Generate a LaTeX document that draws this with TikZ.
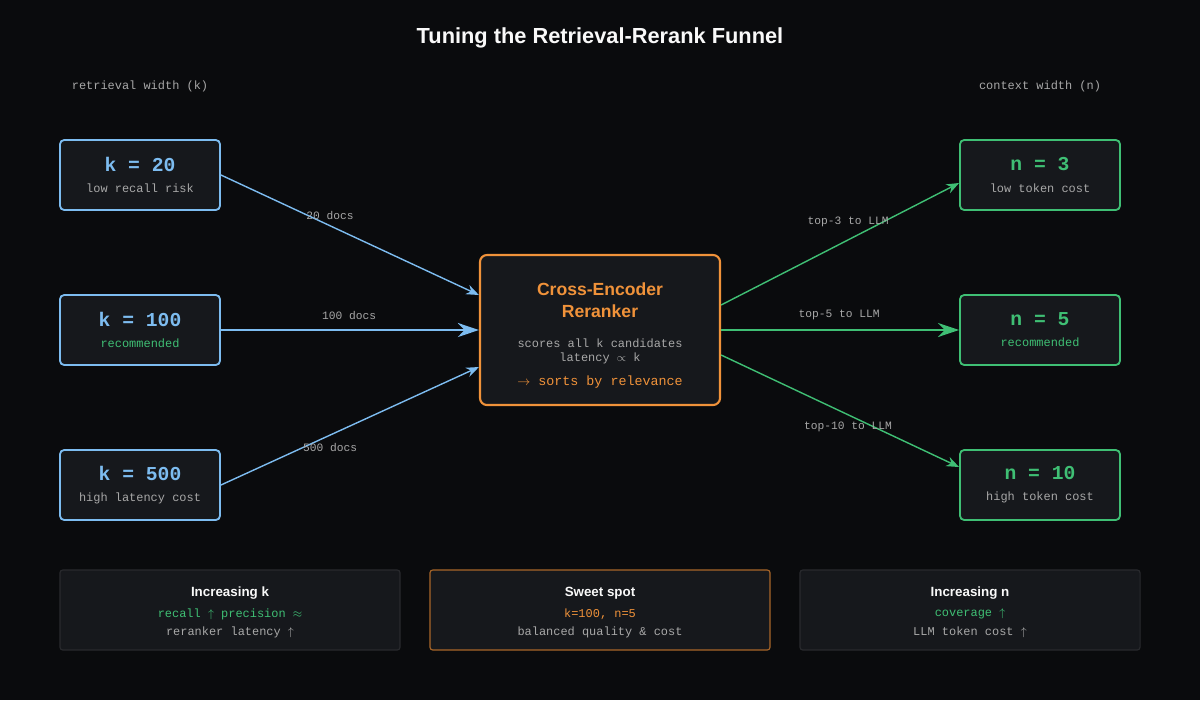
\documentclass[tikz,border=0pt]{standalone}
\usepackage{fontspec}
\setmainfont{Liberation Sans}
\newfontfamily\monof{Liberation Mono}
\usetikzlibrary{calc}
\usetikzlibrary{arrows.meta}
\definecolor{bgc}{HTML}{0A0B0D}
\definecolor{boxc}{HTML}{16181C}
\definecolor{kblue}{HTML}{7DBCF0}
\definecolor{ngreen}{HTML}{3FBF74}
\definecolor{rorange}{HTML}{F0923A}
\definecolor{txtgray}{HTML}{A8A8A8}
\tikzset{
  inbox/.style={draw=kblue,fill=boxc,line width=1.3pt,rounded corners=3pt,minimum width=4cm,minimum height=1.75cm,align=center,inner sep=0pt},
  outbox/.style={inbox,draw=ngreen},
  notebox/.style={draw=#1,fill=boxc,line width=0.8pt,rounded corners=2pt,minimum width=8.5cm,minimum height=2cm,align=center,inner sep=0pt},
  flowin/.style={draw=kblue,line width=1pt,-{Stealth[length=9pt,width=7pt]}},
  flowout/.style={draw=ngreen,line width=1pt,-{Stealth[length=9pt,width=7pt]}},
  edgelbl/.style={font=\monof\fontsize{8}{9}\selectfont,color=txtgray},
  sub/.style={font=\monof\fontsize{8.5}{10}\selectfont,color=txtgray}
}
\newcommand{\bigk}[2]{{\monof\fontsize{14}{16}\selectfont\bfseries\color{#1}#2}}
\begin{document}
\begin{tikzpicture}[x=0.025cm,y=-0.025cm]
  \fill[bgc] (0,0) rectangle (1200,700);
  \useasboundingbox (0,0) rectangle (1200,700);

  \node[font=\bfseries\fontsize{15.5}{18}\selectfont,color=white!95!gray] (title) at (600,38) {Tuning the Retrieval-Rerank Funnel};
  \node[sub] (lhead) at (140,86) {retrieval width (k)};
  \node[sub] (rhead) at (1040,86) {context width (n)};

  % retrieval side
  \node[inbox] (k20) at (140,175) {\bigk{kblue}{k = 20}\\[3pt]{\monof\fontsize{8.5}{10}\selectfont\color{txtgray}low recall risk}};
  \node[inbox] (k100) at (140,330) {\bigk{kblue}{k = 100}\\[3pt]{\monof\fontsize{8.5}{10}\selectfont\color{ngreen}recommended}};
  \node[inbox] (k500) at (140,485) {\bigk{kblue}{k = 500}\\[3pt]{\monof\fontsize{8.5}{10}\selectfont\color{txtgray}high latency cost}};

  % reranker
  \node[draw=rorange,fill=boxc,line width=1.5pt,rounded corners=5pt,minimum width=6cm,minimum height=3.75cm,inner sep=0pt] (rr) at (600,330) {};
  \node[font=\bfseries\fontsize{12.5}{16}\selectfont,color=rorange,align=center] (rrtitle) at (600,300) {Cross-Encoder\\Reranker};
  \node[sub,align=center] (rrtext) at (600,351) {scores all k candidates\\latency $\propto$ k};
  \node[font=\monof\fontsize{9.5}{11}\selectfont,color=rorange] (rrsort) at (600,382) {$\rightarrow$ sorts by relevance};

  % context side
  \node[outbox] (n3) at (1040,175) {\bigk{ngreen}{n = 3}\\[3pt]{\monof\fontsize{8.5}{10}\selectfont\color{txtgray}low token cost}};
  \node[outbox] (n5) at (1040,330) {\bigk{ngreen}{n = 5}\\[3pt]{\monof\fontsize{8.5}{10}\selectfont\color{ngreen}recommended}};
  \node[outbox] (n10) at (1040,485) {\bigk{ngreen}{n = 10}\\[3pt]{\monof\fontsize{8.5}{10}\selectfont\color{txtgray}high token cost}};

  % flows
  \draw[flowin] (k20.east) -- ($(rr.west)+(0,-35)$);
  \draw[flowin,line width=1.8pt,-{Stealth[length=15pt,width=10pt]}] (k100.east) -- (rr.west);
  \draw[flowin] (k500.east) -- ($(rr.west)+(0,37)$);
  \draw[flowout] ($(rr.east)+(0,-25)$) -- ($(n3.west)+(0,8)$);
  \draw[flowout,line width=1.8pt,-{Stealth[length=15pt,width=10pt]}] (rr.east) -- (n5.west);
  \draw[flowout] ($(rr.east)+(0,25)$) -- ($(n10.west)+(0,-18)$);

  \node[edgelbl] (l20) at (330,215) {20 docs};
  \node[edgelbl] (l100) at (349,315) {100 docs};
  \node[edgelbl] (l500) at (330,447) {500 docs};
  \node[edgelbl] (l3) at (848,222) {top-3 to LLM};
  \node[edgelbl] (l5) at (839,315) {top-5 to LLM};
  \node[edgelbl] (l10) at (848,427) {top-10 to LLM};

  % notes
  \node[notebox=boxc!80!white!40!boxc] (nk) at (230,610) {};
  \node[notebox=rorange!70!black] (ns) at (600,610) {};
  \node[notebox=boxc!80!white!40!boxc] (nn) at (970,610) {};
  \foreach \nm/\hd/\la/\ca/\lb in {nk/Increasing k/{recall $\uparrow$ precision $\approx$}/ngreen/{reranker latency $\uparrow$},
      ns/Sweet spot/{k=100, n=5}/rorange/{balanced quality \& cost},
      nn/Increasing n/{coverage $\uparrow$}/ngreen/{LLM token cost $\uparrow$}} {
    \node[font=\bfseries\fontsize{9.5}{11}\selectfont,color=white!95!gray] at ($(\nm.center)+(0,-17)$) {\hd};
    \node[sub,color=\ca] at ($(\nm.center)+(0,4)$) {\la};
    \node[sub] at ($(\nm.center)+(0,22)$) {\lb};
  }
\end{tikzpicture}
\end{document}
